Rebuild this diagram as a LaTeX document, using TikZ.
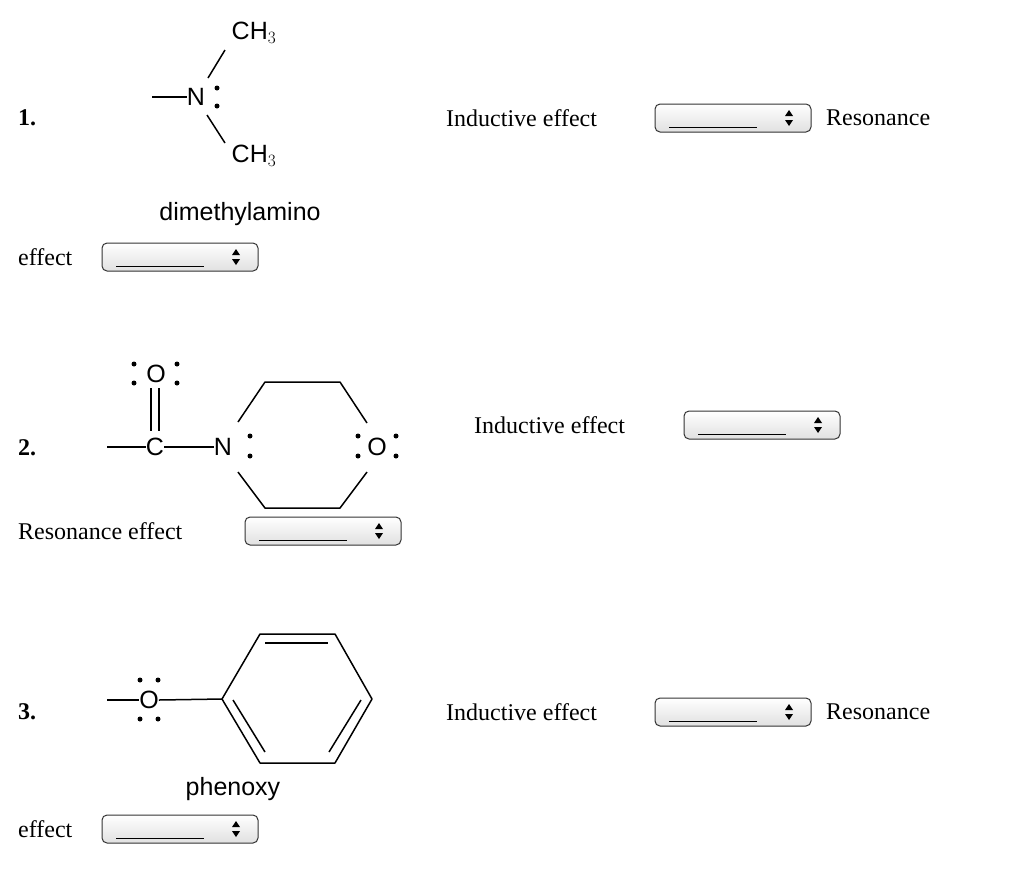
\documentclass[tikz,border=0pt]{standalone}
\usepackage{fontspec}
\setmainfont{Liberation Serif}
\newfontfamily\chem{Liberation Sans}
\begin{document}
\begin{tikzpicture}[x=1pt,y=-1pt,
  txt/.style={font=\fontsize{24}{28}\selectfont,inner sep=0pt,anchor=west},
  num/.style={font=\fontsize{24}{28}\selectfont\bfseries,inner sep=0pt,anchor=west},
  atm/.style={font=\fontsize{25}{28}\chem,inner sep=0pt},
  bond/.style={line width=1.5pt},
  lp/.style={fill=black,circle,inner sep=0pt,minimum size=5pt},
  box/.style={rounded corners=5pt,draw=black!80,line width=1pt,top color=white,bottom color=black!12}]
\useasboundingbox (0,0) rectangle (1024,879);
\tikzset{pics/dd/.style={code={
  \draw[box] (0,-14) rectangle (156,14);
  \draw[line width=1pt] (14,9) -- (102,9);
  \fill (130,-2) -- (138,-2) -- (134,-8) -- cycle;
  \fill (130,2) -- (138,2) -- (134,8) -- cycle;}}}
% ---------- 1
\node[num] (n1) at (18,118) {1.};
\node[atm] (N1) at (196,97) {N};
\node[lp] (d1a) at (217,88) {}; \node[lp] (d1b) at (217,106) {};
\coordinate (l1) at (152,97);
\draw[bond] (l1) -- (N1.west);
\node[atm] (c1) at (254,33) {CH$_3$};
\node[atm] (c2) at (254,156) {CH$_3$};
\draw[bond] (208,78) -- (225,50);
\draw[bond] (207,115) -- (225,143);
\node[atm] (lab1) at (240,214) {dimethylamino};
\node[txt] (e1) at (18,257) {effect};
\pic at (102,257) {dd};
\node[txt] (i1) at (446,118) {Inductive effect};
\pic at (655,118) {dd};
\node[txt] (r1) at (826,118) {Resonance};
% ---------- 2
\node[num] (n2) at (18,448) {2.};
\node[atm] (O2) at (156,374) {O};
\node[lp] at (134,364) {}; \node[lp] at (134,383) {};
\node[lp] at (177,364) {}; \node[lp] at (177,383) {};
\node[atm] (C2) at (155,447) {C};
\draw[bond] (151,388) -- (151,431);
\draw[bond] (159,388) -- (159,431);
\draw[bond] (107,447) -- (C2.west);
\node[atm] (N2) at (223,447) {N};
\draw[bond] (C2.east) -- (N2.west);
\node[lp] at (250,436) {}; \node[lp] at (250,456) {};
\node[atm] (O3) at (377,447) {O};
\node[lp] at (358,436) {}; \node[lp] at (358,456) {};
\node[lp] at (396,436) {}; \node[lp] at (396,456) {};
\draw[bond,line join=round] (238,422) -- (265,382) -- (340,382) -- (367,423);
\draw[bond,line join=round] (238,472) -- (265,508) -- (340,508) -- (367,472);
\node[txt] (i2) at (474,425) {Inductive effect};
\pic at (684,425) {dd};
\node[txt] (r2) at (18,531) {Resonance effect};
\pic at (245,531) {dd};
% ---------- 3
\node[num] (n3) at (18,712) {3.};
\node[atm] (O4) at (149,700) {O};
\node[lp] at (140,680) {}; \node[lp] at (158,680) {};
\node[lp] at (140,719) {}; \node[lp] at (158,719) {};
\draw[bond] (107,700) -- (O4.west);
\draw[bond] (O4.east) -- (222,699);
\draw[bond,line join=round] (222,699) -- (260,634) -- (335,634) -- (372,699) -- (335,763) -- (260,763) -- cycle;
\draw[bond] (265,643) -- (328,643);
\draw[bond] (233,700) -- (265,752);
\draw[bond] (361,700) -- (329,752);
\node[atm] (lab3) at (233,789) {phenoxy};
\node[txt] (i3) at (446,712) {Inductive effect};
\pic at (655,712) {dd};
\node[txt] (r3) at (826,712) {Resonance};
\node[txt] (e3) at (18,829) {effect};
\pic at (102,829) {dd};
\end{tikzpicture}
\end{document}
